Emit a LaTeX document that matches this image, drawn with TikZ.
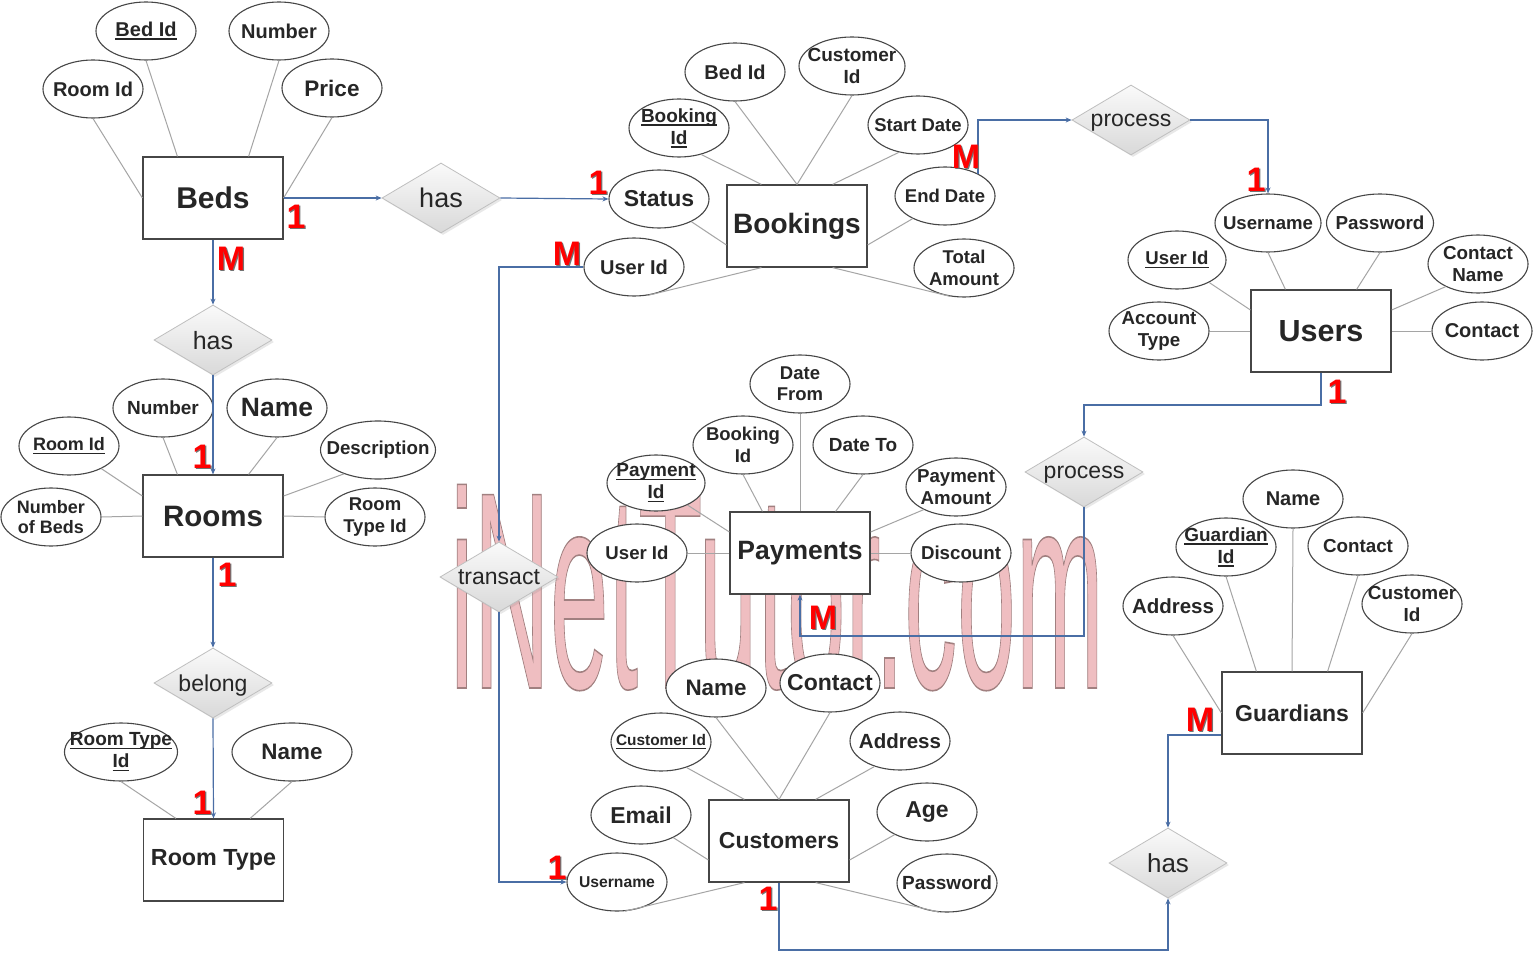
\documentclass[tikz,border=0pt]{standalone}
\usepackage{fontspec}
\setmainfont{Liberation Sans}
\usetikzlibrary{shapes.geometric,arrows.meta,calc,shadows}
\definecolor{connc}{RGB}{74,110,165}
\definecolor{attc}{RGB}{165,165,165}
\definecolor{txtc}{RGB}{38,38,38}
\definecolor{brdc}{RGB}{70,70,70}
\definecolor{wmc}{RGB}{239,190,193}
\newcommand\fz[2]{\fontsize{#1}{#2}\selectfont}
\newcommand\fb[1]{\bfseries\fontsize{#1}{#1}\selectfont\baselineskip=1.15\baselineskip}
\newcommand\ukey[1]{\leavevmode\setbox0\hbox{#1}\rlap{\rule[-3.5pt]{\wd0}{1.7pt}}\box0}
\newcommand\cardtxt[1]{\rlap{\hspace*{1.3pt}\raisebox{-1.3pt}{\textcolor{black!55}{#1}}}\textcolor{red}{#1}}
\begin{document}
\begin{tikzpicture}[x=1pt,y=-1pt,
  ent/.style={draw=brdc,line width=1.2pt,fill=white,minimum width=140pt,minimum height=82pt,inner sep=0pt,text=txtc},
  att/.style={ellipse,draw=brdc,line width=1.1pt,fill=white,minimum width=100pt,minimum height=58pt,inner xsep=-22pt,inner ysep=-12pt,align=center,text=txtc},
  rel/.style={diamond,draw=black!25,line width=0.8pt,top color=black!2,bottom color=black!15,minimum width=118pt,minimum height=70pt,inner xsep=-20pt,inner ysep=-8pt,text depth=0pt,text=txtc,drop shadow={opacity=0.18,shadow xshift=2pt,shadow yshift=-2pt}},
  attl/.style={draw=attc,line width=1pt},
  conn/.style={draw=connc,line width=1.2pt,-{Stealth[length=6pt,width=5pt]}},
  card/.style={inner sep=0pt,font=\bfseries\fz{34}{36}}
]
\useasboundingbox (0,0) rectangle (1536,960);
\fill[white] (0,0) rectangle (1536,960);

% watermark (pink fill, thin grey outline)
\node[inner sep=0pt,anchor=base,font=\fontsize{281}{281}\selectfont] (wm) at (777,688) {\scalebox{0.376}[1]{\textcolor{wmc}{\special{pdf:literal direct 2 Tr 1.6 w 0.63 0.5 0.5 RG}iNetTutor.com\special{pdf:literal direct 0 Tr}}}};

% entities
\node[ent,font=\fb{30}] (beds) at (213,198) {Beds};
\node[ent,font=\fb{28}] (bookings) at (797,226) {Bookings};
\node[ent,font=\fb{30.5}] (users) at (1321,331) {Users};
\node[ent,font=\fb{29.5}] (rooms) at (213,516) {Rooms};
\node[ent,font=\fb{26.5}] (payments) at (800,553) {Payments};
\node[ent,font=\fb{23.3}] (roomtype) at (213.5,860) {Room Type};
\node[ent,font=\fb{23}] (customers) at (779,841) {Customers};
\node[ent,font=\fb{23}] (guardians) at (1292,713) {Guardians};

% relationships
\node[rel,font=\fz{27}{30}] (has1) at (441,198) {has};
\node[rel,font=\fz{25}{28}] (has2) at (213,340) {has};
\node[rel,font=\fz{23}{26}] (belong) at (213,683) {belong};
\node[rel,font=\fz{23}{26}] (proc1) at (1131,120) {process};
\node[rel,font=\fz{23}{26}] (proc2) at (1084,472) {process};
\node[rel,font=\fz{23}{26}] (transact) at (499,577) {transact};
\node[rel,font=\fz{26}{29}] (has3) at (1168,863) {has};

% Beds attributes
\node[att,font=\fb{20}] (b_bedid) at (146,31) {\ukey{Bed Id}};
\node[att,font=\fb{20}] (b_number) at (279,31) {Number};
\node[att,font=\fb{20}] (b_roomid) at (93,89) {Room Id};
\node[att,font=\fb{22.5}] (b_price) at (332,88) {Price};

% Bookings attributes
\node[att,font=\fb{20}] (k_bedid) at (735,72) {Bed Id};
\node[att,font=\fb{19},minimum width=106pt] (k_custid) at (852,66) {Customer\\Id};
\node[att,font=\fb{19}] (k_bookid) at (679,128) {\ukey{Booking}\\\ukey{Id}};
\node[att,font=\fb{18.5}] (k_start) at (918,125) {Start Date};
\node[att,font=\fb{23}] (k_status) at (659,199) {Status};
\node[att,font=\fb{18.5}] (k_end) at (945,196) {End Date};
\node[att,font=\fb{20}] (k_userid) at (634,267) {User Id};
\node[att,font=\fb{18.5}] (k_total) at (964,268) {Total\\Amount};

% Users attributes
\node[att,font=\fb{18.6},minimum width=106pt] (u_username) at (1268,223) {Username};
\node[att,font=\fb{18.8},minimum width=107pt] (u_password) at (1380,223) {Password};
\node[att,font=\fb{18.6},minimum width=98pt] (u_userid) at (1177,260) {\ukey{User Id}};
\node[att,font=\fb{18.8}] (u_cname) at (1478,264) {Contact\\Name};
\node[att,font=\fb{18.7}] (u_acct) at (1159,331) {Account\\Type};
\node[att,font=\fb{20}] (u_contact) at (1482,331) {Contact};

% Rooms attributes
\node[att,font=\fb{19}] (r_number) at (163,408) {Number};
\node[att,font=\fb{26.5}] (r_name) at (277,408) {Name};
\node[att,font=\fb{18}] (r_roomid) at (69,446) {\ukey{Room Id}};
\node[att,font=\fb{18.7},minimum width=115pt] (r_desc) at (378,450) {Description};
\node[att,font=\fb{18}] (r_nbeds) at (51,517) {Number\\of Beds};
\node[att,font=\fb{18.5}] (r_rtid) at (375,517) {Room\\Type Id};

% Room Type attributes
\node[att,font=\fb{19},minimum width=113pt] (t_rtid) at (121,752) {\ukey{Room Type}\\\ukey{Id}};
\node[att,font=\fb{22.4},minimum width=120pt] (t_name) at (292,752) {Name};

% Payments attributes
\node[att,font=\fb{18.5}] (p_from) at (800,384) {Date\\From};
\node[att,font=\fb{18.5}] (p_bookid) at (743,445) {Booking\\Id};
\node[att,font=\fb{19}] (p_to) at (863,445) {Date To};
\node[att,font=\fb{19},minimum width=98pt,minimum height=56pt] (p_payid) at (656,483) {\ukey{Payment}\\\ukey{Id}};
\node[att,font=\fb{18.7}] (p_amt) at (956,487) {Payment\\Amount};
\node[att,font=\fb{18.6}] (p_userid) at (637,553) {User Id};
\node[att,font=\fb{18.7}] (p_disc) at (961,553) {Discount};

% Customers attributes
\node[att,font=\fb{22.4}] (c_name) at (716,688) {Name};
\node[att,font=\fb{23}] (c_contact) at (830,683) {Contact};
\node[att,font=\fb{15.4}] (c_cid) at (661,742) {\ukey{Customer Id}};
\node[att,font=\fb{20.5}] (c_addr) at (900,741) {Address};
\node[att,font=\fb{23}] (c_email) at (641,815) {Email};
\node[att,font=\fb{23}] (c_age) at (927,812) {Age};
\node[att,font=\fb{15.7}] (c_username) at (617,882) {Username};
\node[att,font=\fb{19}] (c_pass) at (947,883) {Password};

% Guardians attributes
\node[att,font=\fb{20}] (g_name) at (1293,499) {Name};
\node[att,font=\fb{19}] (g_gid) at (1226,547) {\ukey{Guardian}\\\ukey{Id}};
\node[att,font=\fb{18.8}] (g_contact) at (1358,546) {Contact};
\node[att,font=\fb{20.5}] (g_addr) at (1173,606) {Address};
\node[att,font=\fb{18.9}] (g_cid) at (1412,604) {Customer\\Id};

% attribute lines
\draw[attl] (b_roomid.south) -- (beds.west);
\draw[attl] (b_bedid.south) -- ($(beds.north west)+(35,0)$);
\draw[attl] (b_number.south) -- ($(beds.north east)+(-35,0)$);
\draw[attl] (b_price.south) -- (beds.east);

\draw[attl] (k_bookid.-50) -- ($(bookings.north west)+(35,0)$);
\draw[attl] (k_bedid.south) -- (bookings.north);
\draw[attl] (k_custid.south) -- (bookings.north);
\draw[attl] (k_start.-125) -- ($(bookings.north east)+(-35,0)$);
\draw[attl] (k_status.-35) -- ($(bookings.west)+(0,19)$);
\draw[attl] (k_end.-145) -- ($(bookings.east)+(0,19)$);
\draw[attl] (k_userid.-65) -- ($(bookings.south west)+(35,0)$);
\draw[attl] (k_total.-115) -- ($(bookings.south east)+(-35,0)$);

\draw[attl] (u_username.south) -- ($(users.north west)+(35,0)$);
\draw[attl] (u_password.south) -- ($(users.north east)+(-35,0)$);
\draw[attl] (u_userid.-35) -- ($(users.west)+(0,-21)$);
\draw[attl] (u_cname.-145) -- ($(users.east)+(0,-21)$);
\draw[attl] (u_acct.east) -- (users.west);
\draw[attl] (u_contact.west) -- (users.east);

\draw[attl] (r_number.south) -- ($(rooms.north west)+(35,0)$);
\draw[attl] (r_name.south) -- ($(rooms.north east)+(-35,0)$);
\draw[attl] (r_roomid.-35) -- ($(rooms.west)+(0,-20)$);
\draw[attl] (r_desc.-145) -- ($(rooms.east)+(0,-20)$);
\draw[attl] (r_nbeds.east) -- (rooms.west);
\draw[attl] (r_rtid.west) -- (rooms.east);

\draw[attl] (t_rtid.south) -- ($(roomtype.north west)+(33,0)$);
\draw[attl] (t_name.south) -- ($(roomtype.north east)+(-34,0)$);

\draw[attl] (p_from.south) -- (payments.north);
\draw[attl] (p_bookid.south) -- ($(payments.north west)+(33,0)$);
\draw[attl] (p_to.south) -- ($(payments.north east)+(-35,0)$);
\draw[attl] (p_payid.-35) -- ($(payments.west)+(0,-21)$);
\draw[attl] (p_amt.-145) -- ($(payments.east)+(0,-21)$);
\draw[attl] (p_userid.east) -- (payments.west);
\draw[attl] (p_disc.west) -- (payments.east);

\draw[attl] (c_name.south) -- (customers.north);
\draw[attl] (c_contact.south) -- (customers.north);
\draw[attl] (c_cid.-45) -- ($(customers.north west)+(36,0)$);
\draw[attl] (c_addr.-135) -- ($(customers.north east)+(-34,0)$);
\draw[attl] (c_email.-35) -- ($(customers.west)+(0,19)$);
\draw[attl] (c_age.-145) -- ($(customers.east)+(0,19)$);
\draw[attl] (c_username.-75) -- ($(customers.south west)+(36,0)$);
\draw[attl] (c_pass.-105) -- ($(customers.south east)+(-34,0)$);

\draw[attl] (g_name.south) -- (guardians.north);
\draw[attl] (g_gid.south) -- ($(guardians.north west)+(35,0)$);
\draw[attl] (g_contact.south) -- ($(guardians.north east)+(-35,0)$);
\draw[attl] (g_addr.south) -- (guardians.west);
\draw[attl] (g_cid.south) -- (guardians.east);

% relationship connectors
\coordinate (mstart) at (978,174);
\coordinate (uturn) at (1321,405);
\coordinate (pturn) at (1084,636);
\coordinate (cturn) at (779,950);
\draw[conn] (beds.east) -- (has1.west);
\draw[conn] (has1.east) -- (k_status.west);
\draw[conn] (beds.south) -- (has2.north);
\draw[conn] (has2.south) -- (rooms.north);
\draw[conn] (rooms.south) -- (belong.north);
\draw[conn] (belong.south) -- (roomtype.north);
\draw[conn] (k_userid.west) -| (transact.north);
\draw[conn] (transact.south) |- (c_username.west);
\draw[conn] (mstart) |- (proc1.west);
\draw[conn] (proc1.east) -| (u_username.north);
\draw[conn] (users.south) -- (uturn) -| (proc2.north);
\draw[conn] (proc2.south) -- (pturn) -| (payments.south);
\draw[conn] ($(guardians.west)+(0,22)$) -| (has3.north);
\draw[conn] (customers.south) -- (cturn) -| (has3.south);

% cardinalities
\node[card] (n1) at (296,217) {\cardtxt{1}};
\node[card] (n2) at (231,259) {\cardtxt{M}};
\node[card] (n3) at (598,183) {\cardtxt{1}};
\node[card] (n4) at (567,254) {\cardtxt{M}};
\node[card] (n5) at (966,157) {\cardtxt{M}};
\node[card] (n6) at (1256,180) {\cardtxt{1}};
\node[card] (n7) at (1337,392) {\cardtxt{1}};
\node[card] (n8) at (202,457) {\cardtxt{1}};
\node[card] (n9) at (227,575) {\cardtxt{1}};
\node[card] (n10) at (202,803) {\cardtxt{1}};
\node[card] (n11) at (823,618) {\cardtxt{M}};
\node[card] (n12) at (557,868) {\cardtxt{1}};
\node[card] (n13) at (768,899) {\cardtxt{1}};
\node[card] (n14) at (1200,720) {\cardtxt{M}};
\end{tikzpicture}
\end{document}
